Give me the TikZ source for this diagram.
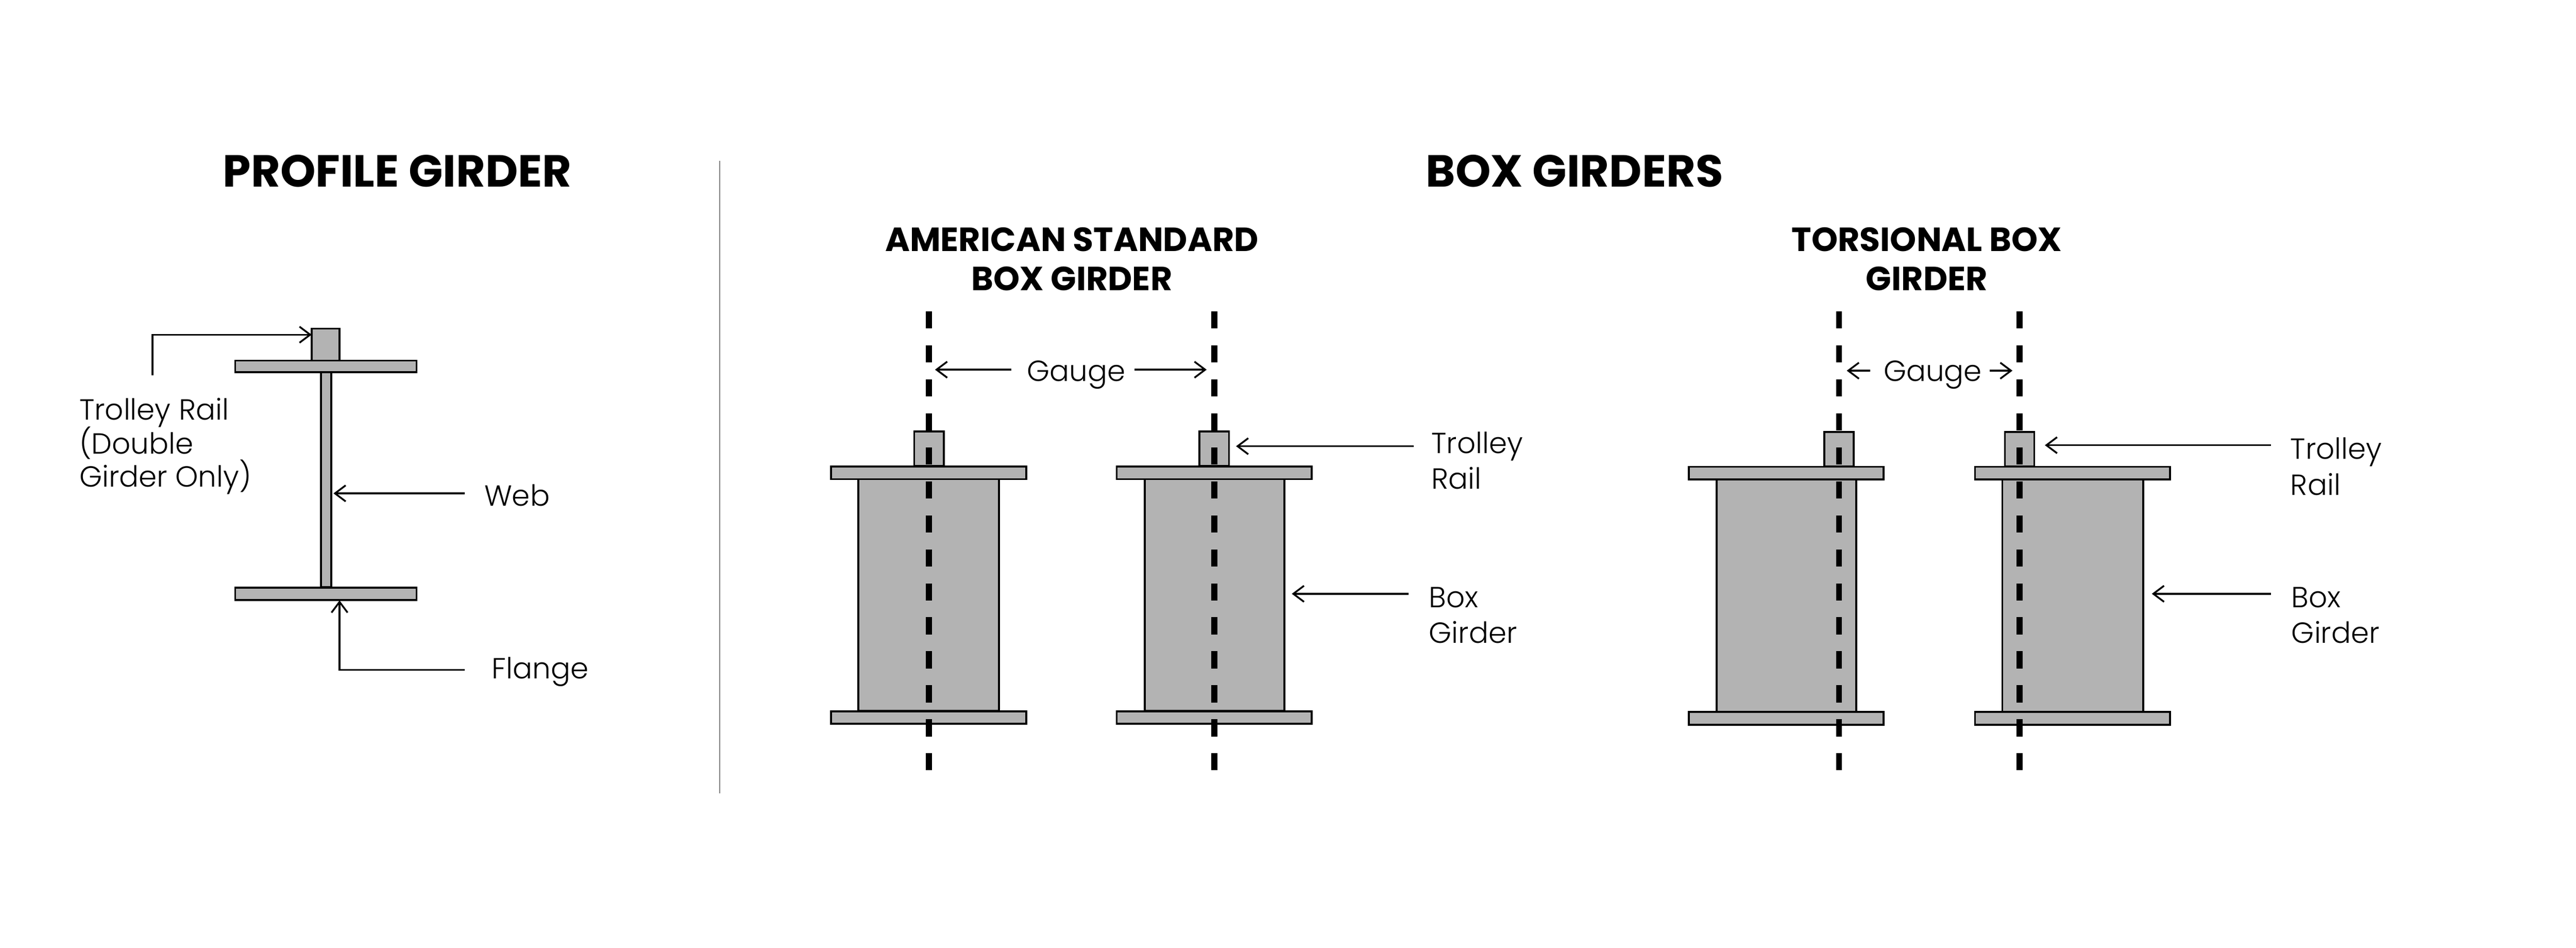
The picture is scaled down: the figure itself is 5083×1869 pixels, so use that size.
\documentclass[tikz,border=0pt]{standalone}
\usepackage{fontspec}
\setmainfont{Poppins Light}
\newfontfamily\headfont{Poppins Bold}
\usetikzlibrary{arrows.meta}
\definecolor{steel}{HTML}{B3B3B3}
\definecolor{rule}{HTML}{808080}
\tikzset{
	part/.style={draw=black,fill=steel,line width=1.1pt,inner sep=0pt,outer sep=0pt},
	lead/.style={->,line width=1pt},
	axis/.style={line width=3.3pt,dash pattern=on .34cm off .33cm},
	lbl/.style={anchor=base west,inner sep=0pt,align=left,font=\fontsize{16.3}{20}\selectfont},
	bighead/.style={anchor=base,inner sep=0pt,font=\headfont\fontsize{25.2}{30}\selectfont},
	subhead/.style={anchor=base,inner sep=0pt,align=center,font=\headfont\fontsize{18.8}{21.9}\selectfont}
}
\newcommand{\pxu}{.01cm}
\begin{document}
\begin{tikzpicture}[>={Straight Barb[length=6pt,width=9pt]},x=.01cm,y=-.01cm]
	\useasboundingbox (0,0) rectangle (5083,1869);

	% profile girder
	\node[bighead] (titleprofile) at (784,368) {PROFILE GIRDER};
	\node[part,minimum width=55*\pxu,minimum height=63*\pxu] (prail) at (642.5,679.5) {};
	\node[part,minimum width=358*\pxu,minimum height=23*\pxu] (ptop) at (643,722.5) {};
	\node[part,minimum width=21*\pxu,minimum height=424*\pxu] (pweb) at (643.5,946) {};
	\node[part,minimum width=358*\pxu,minimum height=24*\pxu] (pbot) at (643,1171) {};

	\node[lbl] (ptrolley) at (156,828) {Trolley Rail};
	\node[lbl] (pdouble) at (156,895) {(Double};
	\node[lbl] (ponly) at (156,960) {Girder Only)};
	\node[lbl] (pwebtxt) at (955,998) {Web};
	\node[lbl] (pflange) at (970,1338) {Flange};

	\coordinate (ptail) at (301,740);
	\coordinate (wtail) at (917,973);
	\coordinate (ftail) at (917,1321);
	\draw[lead] (ptail) |- (prail.west |- 0,660);
	\draw[lead,shorten >=4*\pxu] (wtail) -- (pweb.east |- wtail);
	\draw[lead] (ftail) -| (670,1184);

	% divider
	\coordinate (divtop) at (1420,317);
	\coordinate (divbot) at (1420,1565);
	\draw[rule,line width=.75pt] (divtop) -- (divbot);

	\node[bighead] (titlebox) at (3107,368) {BOX GIRDERS};

	% american standard
	\node[subhead] (titleamer) at (2115,573) {AMERICAN STANDARD\\BOX GIRDER};
	\foreach \nm/\cx in {a/1833,b/2396}{
		\node[part,minimum width=58*\pxu,minimum height=68*\pxu] (rail\nm) at (\cx,885) {};
	}
	\node[part,minimum width=277*\pxu,minimum height=457*\pxu] (boxa) at (1832.5,1173.5) {};
	\node[part,minimum width=275*\pxu,minimum height=457*\pxu] (boxb) at (2396.5,1173.5) {};
	\node[part,minimum width=385*\pxu,minimum height=25*\pxu] (topa) at (1832.5,932.5) {};
	\node[part,minimum width=385*\pxu,minimum height=25*\pxu] (bota) at (1832.5,1415) {};
	\node[part,minimum width=385*\pxu,minimum height=25*\pxu] (topb) at (2396,932.5) {};
	\node[part,minimum width=385*\pxu,minimum height=25*\pxu] (botb) at (2396,1415) {};

	\coordinate (axa) at (1833,614);
	\coordinate (axb) at (2396,614);
	\draw[axis] (axa) -- (1833,1519);
	\draw[axis] (axb) -- (2396,1519);

	\node[lbl] (gaugea) at (2026,752) {Gauge};
	\coordinate (gla) at (1996,729);
	\coordinate (gra) at (2239,729);
	\draw[lead,shorten >=12*\pxu] (gla) -- (axa |- gla);
	\draw[lead,shorten >=15*\pxu] (gra) -- (axb |- gra);

	\node[lbl] (traila) at (2824,964) {Trolley\\Rail};
	\node[lbl] (tboxa) at (2819,1268) {Box\\Girder};
	\coordinate (rta) at (2790,880);
	\coordinate (bta) at (2779,1171);
	\draw[lead,shorten >=14*\pxu] (rta) -- (railb.east |- rta);
	\draw[lead,shorten >=15*\pxu] (bta) -- (boxb.east |- bta);

	% torsional
	\node[subhead] (titletors) at (3802,573) {TORSIONAL BOX\\GIRDER};
	\foreach \nm/\cx in {c/3629,d/3985}{
		\node[part,minimum width=58*\pxu,minimum height=68*\pxu] (rail\nm) at (\cx,886) {};
	}
	\node[part,minimum width=276*\pxu,minimum height=458*\pxu] (boxc) at (3525,1175) {};
	\node[part,minimum width=278*\pxu,minimum height=458*\pxu] (boxd) at (4090,1175) {};
	\node[part,minimum width=385*\pxu,minimum height=25*\pxu] (topc) at (3524.5,933) {};
	\node[part,minimum width=385*\pxu,minimum height=25*\pxu] (botc) at (3524.5,1416.5) {};
	\node[part,minimum width=385*\pxu,minimum height=25*\pxu] (topd) at (4089.5,933) {};
	\node[part,minimum width=385*\pxu,minimum height=25*\pxu] (botd) at (4089.5,1416.5) {};

	\coordinate (axc) at (3629,614);
	\coordinate (axd) at (3985,614);
	\draw[axis] (axc) -- (3629,1519);
	\draw[axis] (axd) -- (3985,1519);

	\node[lbl] (gaugec) at (3716,752) {Gauge};
	\coordinate (glc) at (3690,731);
	\coordinate (grc) at (3926,731);
	\draw[lead,shorten >=15*\pxu] (glc) -- (axc |- glc);
	\draw[lead,shorten >=14*\pxu] (grc) -- (axd |- grc);

	\node[lbl] (trailc) at (4519,976) {Trolley\\Rail};
	\node[lbl] (tboxc) at (4521,1268) {Box\\Girder};
	\coordinate (rtc) at (4481,878);
	\coordinate (btc) at (4481,1171);
	\draw[lead,shorten >=21*\pxu] (rtc) -- (raild.east |- rtc);
	\draw[lead,shorten >=17*\pxu] (btc) -- (boxd.east |- btc);
\end{tikzpicture}
\end{document}
